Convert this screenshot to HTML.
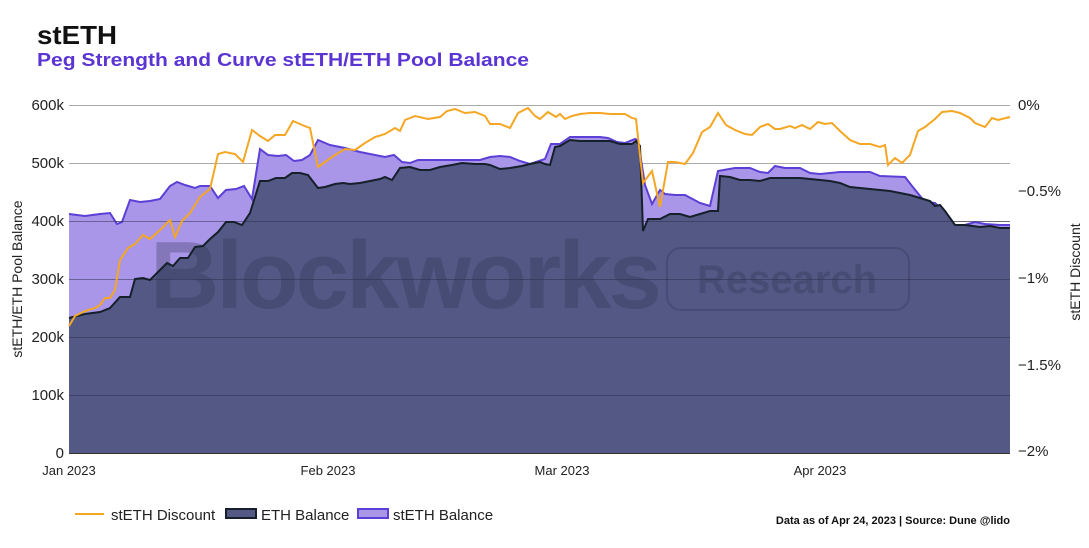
<!DOCTYPE html>
<html><head><meta charset="utf-8"><style>
body{margin:0;background:#fff;font-family:"Liberation Sans",sans-serif;}
svg text{font-family:"Liberation Sans",sans-serif;}
</style></head><body>
<svg width="1089" height="543" viewBox="0 0 1089 543" xmlns="http://www.w3.org/2000/svg">
<rect width="1089" height="543" fill="#fff"/>
<text x="37" y="44" font-size="26" font-weight="bold" fill="#111" textLength="80" lengthAdjust="spacingAndGlyphs">stETH</text>
<text x="37" y="66" font-size="18" font-weight="bold" fill="#5b34d4" textLength="492" lengthAdjust="spacingAndGlyphs">Peg Strength and Curve stETH/ETH Pool Balance</text>
<g stroke="#aaa" stroke-width="1">
<line x1="69" x2="1010" y1="105.5" y2="105.5"/><line x1="69" x2="1010" y1="163.5" y2="163.5"/><line x1="69" x2="1010" y1="221.5" y2="221.5"/>
<line x1="69" x2="1010" y1="279.5" y2="279.5"/><line x1="69" x2="1010" y1="337.5" y2="337.5"/><line x1="69" x2="1010" y1="395.5" y2="395.5"/>
</g>
<polygon fill="#a996e8" points="69,453 69,214 85,216 100,214 110,213 117,224 122,222 130,200 140,202 150,201 160,199 170,186 177,182 185,185 195,188 200,186 210,186 218,198 226,190 236,189 244,186 252,199 260,149 268,155 278,156 286,155 294,161 302,160 310,155 318,140 330,145 345,148 360,152 385,157 394,155 402,162 410,163 418,160 440,160 465,160 480,160 490,157 500,156 510,157 520,161 530,164 545,159 551,144 560,144 570,137 585,137 600,137 608,138 617,142 625,143 635,139 638,140 645,185 652,204 660,190 665,194 675,195 685,195 700,203 710,206 718,171 735,168 750,168 760,172 768,173 775,166 785,168 800,168 810,173 820,174 840,172 870,172 880,176 905,177 912,186 925,202 935,203 945,212 952,225 965,225 975,222 985,224 1000,225 1010,225 1010,453"/>
<polyline fill="none" stroke="#5b3fd6" stroke-width="2" points="69,214 85,216 100,214 110,213 117,224 122,222 130,200 140,202 150,201 160,199 170,186 177,182 185,185 195,188 200,186 210,186 218,198 226,190 236,189 244,186 252,199 260,149 268,155 278,156 286,155 294,161 302,160 310,155 318,140 330,145 345,148 360,152 385,157 394,155 402,162 410,163 418,160 440,160 465,160 480,160 490,157 500,156 510,157 520,161 530,164 545,159 551,144 560,144 570,137 585,137 600,137 608,138 617,142 625,143 635,139 638,140 645,185 652,204 660,190 665,194 675,195 685,195 700,203 710,206 718,171 735,168 750,168 760,172 768,173 775,166 785,168 800,168 810,173 820,174 840,172 870,172 880,176 905,177 912,186 925,202 935,203 945,212 952,225 965,225 975,222 985,224 1000,225 1010,225"/>
<polygon fill="#535885" points="69,453 69,318 85,314 100,312 110,308 120,297 130,297 135,279 143,278 150,280 160,270 167,263 173,266 180,258 188,258 195,247 203,246 210,239 218,232 226,222 234,222 242,225 250,213 260,181 268,181 276,178 285,178 292,173 300,173 308,175 318,188 325,187 335,184 343,183 350,184 360,183 370,181 380,179 385,177 392,180 400,168 410,167 420,170 430,170 440,167 452,165 462,163 475,164 485,164 490,165 500,169 510,168 522,166 530,164 540,162 545,164 550,165 555,147 560,146 570,140 580,141 610,141 620,144 632,144 636,141 640,146 643,231 648,219 660,219 670,214 680,214 690,217 700,214 710,211 718,211 720,176 730,177 740,180 750,180 760,181 770,178 800,178 810,179 820,180 830,181 840,183 850,187 860,188 870,189 880,190 890,191 900,193 910,195 920,198 930,201 935,206 940,205 945,211 950,218 955,225 965,225 980,227 990,226 1000,228 1010,228 1010,453"/>
<g stroke="#2a2d48" stroke-width="1" opacity="0.5">
<line x1="69" x2="1010" y1="221.5" y2="221.5"/><line x1="69" x2="1010" y1="279.5" y2="279.5"/><line x1="69" x2="1010" y1="337.5" y2="337.5"/><line x1="69" x2="1010" y1="395.5" y2="395.5"/>
</g>
<g fill="#2e3150" opacity="0.3">
<text x="150" y="308" font-size="96" font-weight="bold" letter-spacing="-3">Blockworks</text>
<rect x="667" y="248" width="242" height="62" rx="14" fill="none" stroke="#2e3150" stroke-width="2"/>
<text x="697" y="293" font-size="40" font-weight="bold">Research</text>
</g>
<polyline fill="none" stroke="#16202a" stroke-width="2" points="69,318 85,314 100,312 110,308 120,297 130,297 135,279 143,278 150,280 160,270 167,263 173,266 180,258 188,258 195,247 203,246 210,239 218,232 226,222 234,222 242,225 250,213 260,181 268,181 276,178 285,178 292,173 300,173 308,175 318,188 325,187 335,184 343,183 350,184 360,183 370,181 380,179 385,177 392,180 400,168 410,167 420,170 430,170 440,167 452,165 462,163 475,164 485,164 490,165 500,169 510,168 522,166 530,164 540,162 545,164 550,165 555,147 560,146 570,140 580,141 610,141 620,144 632,144 636,141 640,146 643,231 648,219 660,219 670,214 680,214 690,217 700,214 710,211 718,211 720,176 730,177 740,180 750,180 760,181 770,178 800,178 810,179 820,180 830,181 840,183 850,187 860,188 870,189 880,190 890,191 900,193 910,195 920,198 930,201 935,206 940,205 945,211 950,218 955,225 965,225 980,227 990,226 1000,228 1010,228"/>
<polyline fill="none" stroke="#f5a623" stroke-width="2" points="69,326 75,316 85,311 95,308 100,305 105,298 110,298 115,290 120,260 128,248 135,244 143,235 150,239 160,230 170,220 175,237 182,221 190,213 200,197 210,189 218,154 225,152 235,154 243,162 252,130 260,136 268,141 275,135 285,135 293,121 302,125 310,128 318,167 325,162 335,155 345,149 355,150 365,143 375,137 385,134 395,128 400,131 405,120 415,116 428,119 440,117 447,111 455,109 465,113 475,112 485,116 490,124 500,124 510,128 518,113 528,108 535,116 540,119 548,112 556,117 560,114 565,119 572,116 580,114 590,113 600,113 610,114 620,114 625,114 632,118 636,119 643,183 652,171 660,207 668,162 675,162 685,164 693,153 702,132 710,127 718,113 726,125 735,130 745,134 752,135 760,127 768,124 775,129 780,129 790,126 795,128 802,125 810,129 818,122 825,124 832,123 840,131 850,140 860,144 870,144 880,147 885,145 888,165 895,158 902,163 910,155 918,131 925,127 935,119 942,112 952,111 960,113 970,118 975,123 985,127 992,118 998,120 1010,117"/>
<line x1="69" x2="1010" y1="453.5" y2="453.5" stroke="#333" stroke-width="1"/>
<g font-size="15" fill="#222" text-anchor="end">
<text x="64" y="110">600k</text><text x="64" y="168">500k</text><text x="64" y="226">400k</text>
<text x="64" y="284">300k</text><text x="64" y="342">200k</text><text x="64" y="400">100k</text><text x="64" y="458">0</text>
</g>
<g font-size="15" fill="#222">
<text x="1018" y="110">0%</text><text x="1018" y="196">−0.5%</text><text x="1018" y="283">−1%</text>
<text x="1018" y="370">−1.5%</text><text x="1018" y="456">−2%</text>
</g>
<g font-size="13" fill="#222" text-anchor="middle">
<text x="69" y="475">Jan 2023</text><text x="328" y="475">Feb 2023</text><text x="562" y="475">Mar 2023</text><text x="820" y="475">Apr 2023</text>
</g>
<text transform="translate(22,279) rotate(-90)" font-size="14" fill="#222" text-anchor="middle">stETH/ETH Pool Balance</text>
<text transform="translate(1080,272) rotate(-90)" font-size="14" fill="#222" text-anchor="middle">stETH Discount</text>
<line x1="75" x2="104" y1="514" y2="514" stroke="#f5a623" stroke-width="2"/>
<text x="111" y="520" font-size="15" fill="#222">stETH Discount</text>
<rect x="226" y="509" width="30" height="9" fill="#535885" stroke="#16202a" stroke-width="2"/>
<text x="261" y="520" font-size="15" fill="#222">ETH Balance</text>
<rect x="358" y="509" width="30" height="9" fill="#a996e8" stroke="#5b3fd6" stroke-width="2"/>
<text x="393" y="520" font-size="15" fill="#222">stETH Balance</text>
<text x="1010" y="524" font-size="11" font-weight="bold" fill="#111" text-anchor="end">Data as of Apr 24, 2023 | Source: Dune @lido</text>
</svg>
</body></html>
